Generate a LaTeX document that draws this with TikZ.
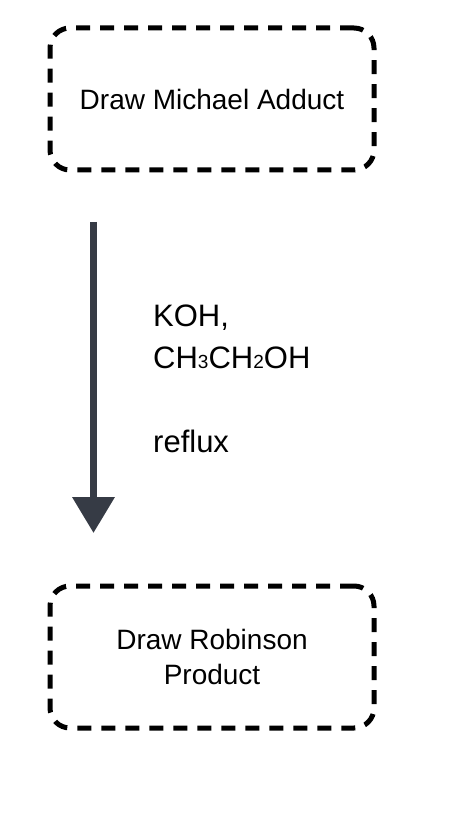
\documentclass[tikz,border=0pt]{standalone}
\usepackage{fontspec}
\setmainfont{Liberation Sans}
\usetikzlibrary{arrows.meta, positioning, calc}
\definecolor{Slate}{rgb}{0.21,0.23,0.27}
\newcommand{\chemsub}[1]{{\fontsize{19}{19}\selectfont #1}}

\begin{document}
\begin{tikzpicture}[x=1pt,y=-1pt,
    drawbox/.style={
        draw=black, line width=5pt, dash pattern=on 14pt off 10pt,
        rounded corners=20pt, minimum width=324pt, minimum height=142pt,
        align=center, font=\fontsize{28}{35}\selectfont, inner sep=0pt},
    reagents/.style={
        align=left, font=\fontsize{31}{42}\selectfont, inner sep=0pt}]

    % page frame
    \fill[white] (0,0) rectangle (470,818);
    \useasboundingbox (0,0) rectangle (470,818);

    % boxes
    \node[drawbox] (adduct) at (212,99) {Draw Michael Adduct};
    \node[drawbox] (product) at (212,657) {Draw Robinson\\Product};

    % reaction arrow
    \coordinate (arrowtop) at (93.5,222);
    \coordinate (arrowtip) at (93.5,533);
    \draw[Slate, line width=7pt,
        -{Triangle[width=41pt,length=36pt]}] (arrowtop) -- (arrowtip);

    % conditions (base anchor sits on the last line)
    \node[reagents, anchor=base west] (conditions) at (153,452)
        {KOH,\\CH\chemsub{3}CH\chemsub{2}OH\\[42pt]reflux};

\end{tikzpicture}
\end{document}
